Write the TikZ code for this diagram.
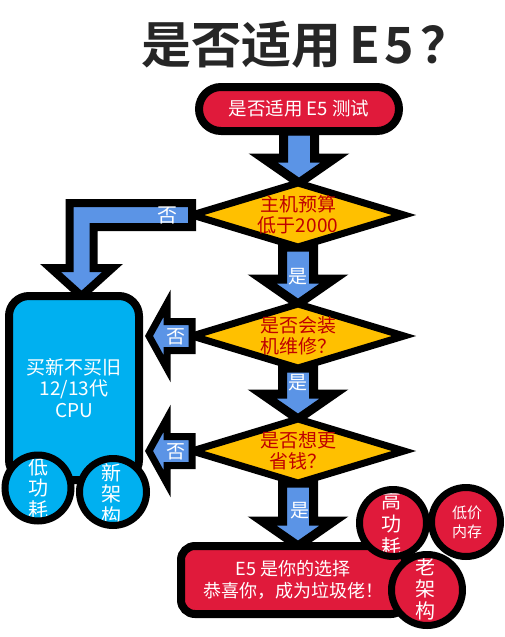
\documentclass[tikz,border=0pt]{standalone}
\usepackage{fontspec}
\setmainfont{Noto Sans CJK SC}
\newfontfamily\titlefont{Noto Sans CJK SC Bold}
\usetikzlibrary{shapes.geometric,calc}
\definecolor{myred}{HTML}{E01A3B}
\definecolor{myblue}{HTML}{00B0F0}
\definecolor{arrowblue}{HTML}{5B94E6}
\definecolor{myorange}{HTML}{FFC000}
\definecolor{dectext}{HTML}{C00000}
\definecolor{titlegray}{HTML}{262626}
\pgfdeclarelayer{back}
\pgfdeclarelayer{front}
\pgfsetlayers{back,main,front}
\tikzset{
  pillbox/.style={rectangle, rounded corners=22pt, draw=black, line width=8pt, fill=myred,
    minimum width=200pt, minimum height=44pt, inner sep=0pt, outer sep=0pt, text=white,
    font=\fontsize{18.5}{21}\selectfont},
  decision/.style={diamond, aspect=3.31, draw=black, line width=7pt, fill=myorange,
    minimum width=212pt, minimum height=64pt, inner sep=-2pt, outer sep=0pt, text=dectext,
    font=\fontsize{19}{21}\selectfont},
  cpubox/.style={rectangle, rounded corners=20pt, draw=black, line width=8pt, fill=myblue,
    minimum width=130pt, minimum height=184pt, inner sep=0pt, outer sep=0pt, text=white,
    align=center, font=\fontsize{19}{21.5}\selectfont},
  endbox/.style={rectangle, rounded corners=14pt, draw=black, line width=8pt, fill=myred,
    minimum width=224pt, minimum height=68pt, inner sep=0pt, outer sep=0pt, text=white,
    align=center, font=\fontsize{18}{22}\selectfont},
  disc/.style={circle, fill=#1, inner sep=0pt, outer sep=0pt},
  ring/.style={draw=black, line width=7pt},
  ctext/.style={text=white, align=center, inner sep=0pt, font=\fontsize{20}{21.5}\selectfont},
  blockarrow/.style={draw=black, line width=9pt, fill=arrowblue},
  sidearrow/.style={draw=black, line width=7pt, fill=arrowblue},
  elbowarrow/.style={draw=black, line width=8pt, fill=arrowblue},
  arrowlabel/.style={text=white, inner sep=0pt, font=\fontsize{19}{19}\selectfont},
}
\newcommand{\downblock}[2]{%
  \draw[blockarrow] let \p1=(#1), \p2=(#2) in
    ({\x1-15.5pt},{\y1}) -- ({\x1+15.5pt},{\y1}) -- ({\x1+15.5pt},{\y2+25pt}) --
    ({\x1+36pt},{\y2+25pt}) -- ({\x1},{\y2}) -- ({\x1-36pt},{\y2+25pt}) --
    ({\x1-15.5pt},{\y2+25pt}) -- cycle;}
\newcommand{\leftblock}[2]{%
  \draw[sidearrow] let \p1=(#1), \p2=(#2) in
    ({\x1},{\y1+14.5pt}) -- ({\x2+18pt},{\y1+14.5pt}) -- ({\x2+18pt},{\y1+32.5pt}) --
    ({\x2},{\y1}) -- ({\x2+18pt},{\y1-32.5pt}) -- ({\x2+18pt},{\y1-14.5pt}) --
    ({\x1},{\y1-14.5pt}) -- cycle;}
\begin{document}
\begin{tikzpicture}[x=1pt,y=-1pt]
\useasboundingbox (0,0) rectangle (505,637);

% title
\node[text=titlegray, inner sep=0pt, font=\titlefont\fontsize{50}{50}\selectfont] (title) at (306,45) {是否适用\hspace{8pt}E\hspace{4pt}5\hspace{6pt}？};

% start
\node[pillbox] (start) at (299,109) {是否适用 E5 测试};

% decisions
\node[decision, align=center] (d1) at (298,215) {主机预算\\低于2000};
\node[decision, align=left] (d2) at (298,336) {是否会装\\机维修？};
\node[decision, align=center] (d3) at (298,451) {是否想更\\省钱？};

% left result box and circles
\begin{pgfonlayer}{front}
\node[cpubox] (cpu) at (74,388) {买新不买旧\\12/13代\\CPU};
\node[disc=myblue, minimum size=66pt] (lowpow) at (38,488) {};
\node[ctext] (lowpowtext) at (38,488) {低\\功\\耗};
\draw[ring] (lowpow.center) circle[radius=33pt];
\node[disc=myblue, minimum size=67pt] (newarch) at (113,492) {};
\node[ctext] (newarchtext) at (111,494) {新\\架\\构};
\draw[ring] (newarch.center) circle[radius=33.5pt];

% end box and circles
\node[endbox] (end) at (293,580) {E5 是你的选择\\恭喜你，成为垃圾佬！};
\node[disc=myred, minimum size=67pt] (highpow) at (393,523) {};
\node[ctext, font=\fontsize{20}{23}\selectfont] (highpowtext) at (391,524) {高\\功\\耗};
\draw[ring] (highpow.center) circle[radius=33.5pt];
\node[disc=myred, minimum size=69pt] (cheapram) at (466,522) {};
\node[ctext, font=\fontsize{15}{19}\selectfont] (cheapramtext) at (467,522) {低价\\内存};
\draw[ring] (cheapram.center) circle[radius=34.5pt];
\node[disc=myred, minimum size=71pt] (oldarch) at (427,590) {};
\node[ctext, font=\fontsize{20}{22}\selectfont] (oldarchtext) at (425,589) {老\\架\\构};
\draw[ring] (oldarch.center) circle[radius=35.5pt];
\end{pgfonlayer}

% down arrows (behind)
\begin{pgfonlayer}{back}
\downblock{start.south}{d1.north}
\downblock{d1.south}{d2.north}
\downblock{d2.south}{d3.north}
\downblock{d3.south}{end.north}
\end{pgfonlayer}

% elbow arrow from d1 to cpu box
\coordinate (t1) at ($(cpu.north)+(7.5pt,0)$);
\draw[elbowarrow] let \p1=(d1.west), \p2=(t1) in
  ({\x1},{\y1+12pt}) -- ({\x2-12pt},{\y1+12pt}) -- ({\x2-12pt},{\y2+28pt}) --
  ({\x2-31pt},{\y2+28pt}) -- ({\x2},{\y2}) -- ({\x2+31pt},{\y2+28pt}) --
  ({\x2+12pt},{\y2+28pt}) -- ({\x2+12pt},{\y1-12pt}) -- ({\x1},{\y1-12pt}) -- cycle;

% side arrows
\coordinate (t2) at ($(cpu.east)+(10pt,0)$);
\leftblock{d2.west}{t2}
\leftblock{d3.west}{t2}

% labels
\node[arrowlabel] (yes1) at (298,277) {是};
\node[arrowlabel] (yes2) at (298,383) {是};
\node[arrowlabel] (yes3) at (300,511) {是};
\node[arrowlabel, font=\fontsize{20}{20}\selectfont] (no1) at (167,215) {否};
\node[arrowlabel] (no2) at (176,337) {否};
\node[arrowlabel] (no3) at (176,452) {否};
\end{tikzpicture}
\end{document}
